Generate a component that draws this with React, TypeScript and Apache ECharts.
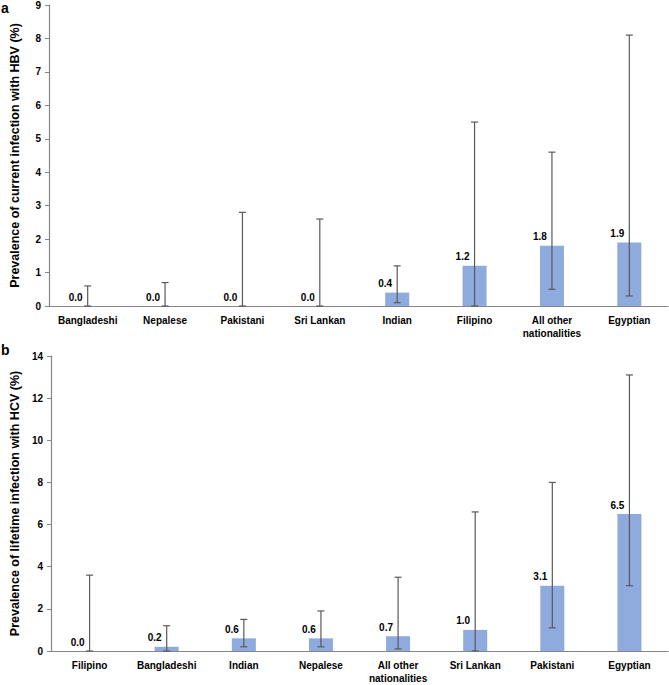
import React, { useEffect, useRef } from "react";
import * as echarts from "echarts";

const hbvCategories = ["Bangladeshi", "Nepalese", "Pakistani", "Sri Lankan", "Indian", "Filipino", "All other\nnationalities", "Egyptian"];
const hbvValues = [0.0, 0.0, 0.0, 0.0, 0.4, 1.2, 1.8, 1.9];
const hbvLow = [0.0, 0.0, 0.0, 0.0, 0.1, 0.0, 0.5, 0.3];
const hbvHigh = [0.6, 0.7, 2.8, 2.6, 1.2, 5.5, 4.6, 8.1];

const hcvCategories = ["Filipino", "Bangladeshi", "Indian", "Nepalese", "All other\nnationalities", "Sri Lankan", "Pakistani", "Egyptian"];
const hcvValues = [0.0, 0.2, 0.6, 0.6, 0.7, 1.0, 3.1, 6.5];
const hcvLow = [0.0, 0.0, 0.2, 0.2, 0.1, 0.0, 1.1, 3.1];
const hcvHigh = [3.6, 1.2, 1.5, 1.9, 3.5, 6.6, 8.0, 13.1];

const FONT = "Liberation Sans, Arial, sans-serif";
const BAR = "#8FAADC";
const ERR = "#595959";
const AXIS = "#868686";

function errorRender(params: any, api: any) {
  const idx = api.value(0);
  const lo = api.coord([idx, api.value(1)]);
  const hi = api.coord([idx, api.value(2)]);
  const cap = 3.5;
  const style = { stroke: ERR, lineWidth: 1.2 };
  return {
    type: "group",
    children: [
      { type: "line", shape: { x1: lo[0], y1: lo[1], x2: hi[0], y2: hi[1] }, style },
      { type: "line", shape: { x1: hi[0] - cap, y1: hi[1], x2: hi[0] + cap, y2: hi[1] }, style },
      { type: "line", shape: { x1: lo[0] - cap, y1: lo[1], x2: lo[0] + cap, y2: lo[1] }, style },
    ],
  };
}

export default function App() {
  const ref = useRef<HTMLDivElement>(null);
  useEffect(() => {
    if (!ref.current) return;
    const chart = echarts.init(ref.current, null, { renderer: "svg" });
    const xAxisBase = {
      type: "category",
      axisLine: { lineStyle: { color: AXIS, width: 1.2 } },
      axisTick: { show: false },
      axisLabel: { color: "#000", fontWeight: "bold", fontSize: 10, fontFamily: FONT, margin: 8, lineHeight: 13, interval: 0 },
    };
    const yAxisBase = {
      type: "value",
      min: 0,
      axisLine: { show: true, lineStyle: { color: AXIS, width: 1.2 } },
      axisTick: { show: true, length: 4, lineStyle: { color: AXIS } },
      splitLine: { show: false },
      axisLabel: { color: "#000", fontWeight: "bold", fontSize: 10, fontFamily: FONT, margin: 8 },
      nameLocation: "middle",
      nameTextStyle: { color: "#000", fontWeight: "bold", fontSize: 12.5, fontFamily: FONT },
    };
    const labelCfg = {
      show: true,
      position: "top",
      distance: 4,
      offset: [-12, 0],
      color: "#000",
      fontWeight: "bold",
      fontSize: 10,
      fontFamily: FONT,
      formatter: (p: any) => Number(p.value).toFixed(1),
    };
    chart.setOption({
      animation: false,
      grid: [
        { left: 40, right: 1, top: 5, height: 301 },
        { left: 43, right: 1, top: 356, height: 300 },
      ],
      xAxis: [
        { ...xAxisBase, gridIndex: 0, data: hbvCategories },
        { ...xAxisBase, gridIndex: 1, data: hcvCategories },
      ],
      yAxis: [
        { ...yAxisBase, gridIndex: 0, max: 9, interval: 1, name: "Prevalence of current infection with HBV (%)", nameGap: 28 },
        { ...yAxisBase, gridIndex: 1, max: 14, interval: 2, name: "Prevalence of lifetime infection with HCV (%)", nameGap: 30 },
      ],
      graphic: [
        { type: "text", left: 1, top: 1, style: { text: "a", fontWeight: "bold", fontSize: 14, fontFamily: FONT, fill: "#000" } },
        { type: "text", left: 1, top: 343, style: { text: "b", fontWeight: "bold", fontSize: 14, fontFamily: FONT, fill: "#000" } },
      ],
      series: [
        {
          type: "bar", xAxisIndex: 0, yAxisIndex: 0, data: hbvValues, barWidth: 24,
          itemStyle: { color: BAR }, label: labelCfg,
        },
        {
          type: "custom", xAxisIndex: 0, yAxisIndex: 0, renderItem: errorRender,
          data: hbvCategories.map((_, i) => [i, hbvLow[i], hbvHigh[i]]), z: 5,
        },
        {
          type: "bar", xAxisIndex: 1, yAxisIndex: 1, data: hcvValues, barWidth: 24,
          itemStyle: { color: BAR }, label: labelCfg,
        },
        {
          type: "custom", xAxisIndex: 1, yAxisIndex: 1, renderItem: errorRender,
          data: hcvCategories.map((_, i) => [i, hcvLow[i], hcvHigh[i]]), z: 5,
        },
      ],
    });
    return () => chart.dispose();
  }, []);
  return <div ref={ref} style={{ position: "fixed", left: 0, top: 0, width: 669, height: 685, background: "#fff" }} />;
}
